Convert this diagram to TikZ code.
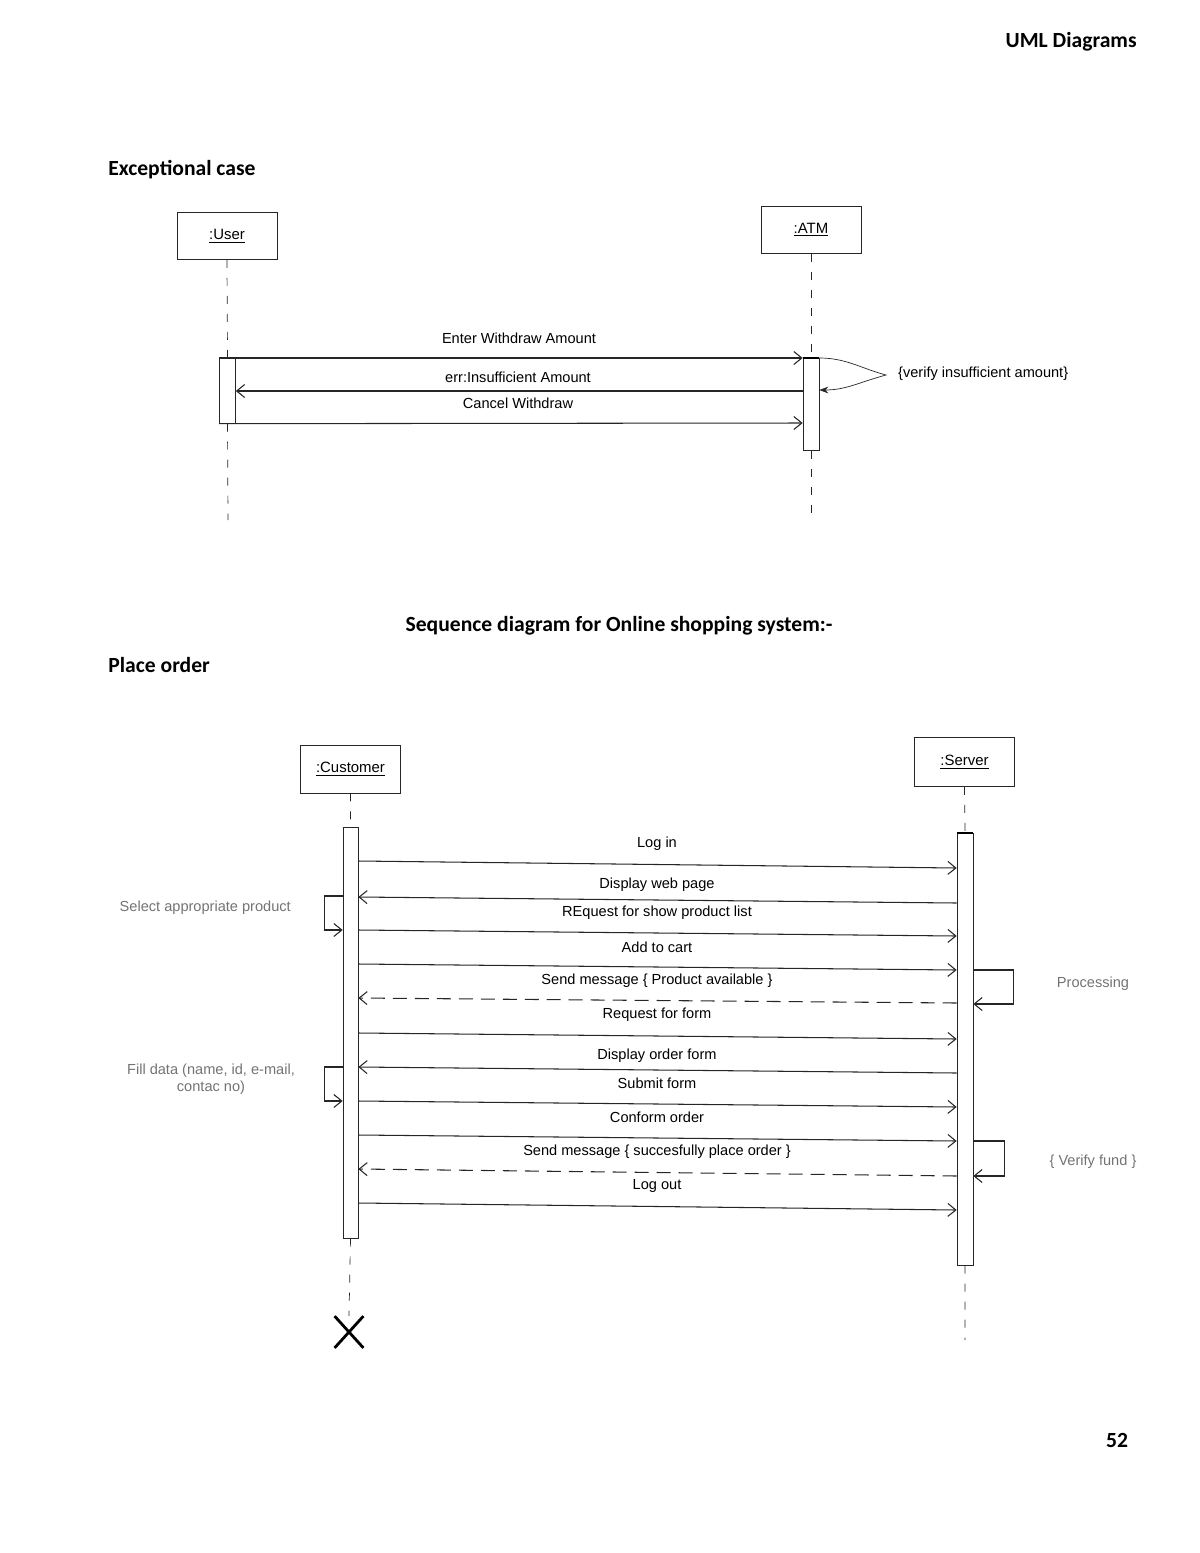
\documentclass[tikz,border=0pt]{standalone}
\usepackage{fontspec}
\setmainfont{Liberation Sans}
\newfontfamily\headfont{Carlito}
\usetikzlibrary{arrows.meta,shapes.misc}

\tikzset{
  obj/.style={draw=black!85, minimum width=2cm, minimum height=0.94cm, font=\fontsize{8.5}{10}\selectfont},
  act/.style={draw=black!85, fill=white, minimum width=0.32cm, inner sep=0pt, anchor=north},
  life/.style={draw=black!85, dash pattern=on 0.16cm off 0.2cm},
  call/.style={draw=black!85, line width=0.6pt, -{Straight Barb[length=1.6mm,width=2.6mm]}},
  reply/.style={call, dash pattern=on 0.28cm off 0.16cm},
  lbl/.style={font=\fontsize{8.3}{10}\selectfont},
  note/.style={font=\fontsize{8.3}{10}\selectfont, text=black!55},
  head/.style={inner sep=0pt, font=\headfont\bfseries\fontsize{12.3}{14}\selectfont},
}

\begin{document}
\begin{tikzpicture}[x=0.02cm,y=-0.02cm]
        \useasboundingbox (0,0) rectangle (1200,1553);
        % page headings
        \node[head,anchor=east] (title) at (1137,42) {UML Diagrams};
        \node[head,anchor=west] (exc) at (108,170) {Exceptional case};
        \node[head] (seq) at (619,626) {Sequence diagram for Online shopping system:-};
        \node[head,anchor=west] (place) at (108,665) {Place order};
        \node[head] (page) at (1117,1440) {52};

        % exceptional case
        \node[obj] (user) at (227,236) {\underline{:User}};
        \node[obj] (atm) at (811,230) {\underline{:ATM}};
        \node[act,minimum height=1.3cm] (ua) at (227.5,358) {};
        \node[act,minimum height=1.84cm] (aa) at (811,358) {};
        \coordinate (ue) at (228,520);
        \coordinate (ae) at (811,522);
        \draw[life] (user.south) -- (ua.north) (ua.south) -- (ue);
        \draw[life] (atm.south) -- (aa.north) (aa.south) -- (ae);
        \draw[line width=1.4pt] (ua.north west) -- (ua.north east) (aa.north west) -- (aa.north east);
        \draw[call] (ua.north west) -- (aa.north west) node[lbl] at (519,338) {Enter Withdraw Amount};
        \draw[call] (aa.west |- 0,391) -- (ua.east |- 0,391) node[lbl] at (518,377) {err:Insufficient Amount};
        \draw[call] (ua.south west) -- (aa.west |- 0,423) node[lbl] at (518,403) {Cancel Withdraw};
        \coordinate (vtip) at (886,375);
        \draw[draw=black!85,-{Stealth[length=1.8mm]}] (aa.north east) to[out=0,in=165] (vtip) to[out=195,in=0] (aa.east |- 0,390);
        \node[lbl,anchor=west] (verify) at (892,374) {\{verify insufficient amount\}};

        % place order
        \node[obj,minimum height=0.96cm] (customer) at (350.5,769) {\underline{:Customer}};
        \node[obj,minimum height=0.98cm] (server) at (964.5,762) {\underline{:Server}};
        \node[act,minimum width=0.3cm,minimum height=8.22cm] (ca) at (350.5,827) {};
        \node[act,minimum height=8.64cm] (sa) at (965,833) {};
        \draw[line width=1.4pt] (sa.north west) -- (sa.north east);
        \node[draw,cross out,line width=1.6pt,minimum width=0.52cm,minimum height=0.58cm,inner sep=0pt] (kill) at (349,1332) {};
        \coordinate (se) at (965,1340);
        \draw[life] (customer.south) -- (ca.north) (ca.south) -- (kill.north);
        \draw[life] (server.south) -- (sa.north) (sa.south) -- (se);

        \draw[call] (ca.east |- 0,861) -- (sa.west |- 0,868) node[lbl] at (657,844) {Log in};
        \draw[call] (sa.west |- 0,903) -- (ca.east |- 0,897) node[lbl] at (657,885) {Display web page};
        \draw[call] (ca.east |- 0,930) -- (sa.west |- 0,936) node[lbl] at (657,913) {REquest for show product list};
        \draw[call] (ca.east |- 0,964) -- (sa.west |- 0,970) node[lbl] at (657,947) {Add to cart};
        \draw[reply] (sa.west |- 0,1003) -- (ca.east |- 0,998) node[lbl] at (657,981) {Send message \{ Product available \}};
        \draw[call] (ca.east |- 0,1033) -- (sa.west |- 0,1039) node[lbl] at (657,1015) {Request for form};
        \draw[call] (sa.west |- 0,1073) -- (ca.east |- 0,1067) node[lbl] at (657,1056) {Display order form};
        \draw[call] (ca.east |- 0,1101) -- (sa.west |- 0,1107) node[lbl] at (657,1083) {Submit form};
        \draw[call] (ca.east |- 0,1135) -- (sa.west |- 0,1141) node[lbl] at (657,1117) {Conform order};
        \draw[reply] (sa.west |- 0,1176) -- (ca.east |- 0,1169) node[lbl] at (657,1152) {Send message \{ succesfully place order \}};
        \draw[call] (ca.east |- 0,1203) -- (sa.west |- 0,1210) node[lbl] at (657,1186) {Log out};

        % self calls
        \draw[call] (ca.west |- 0,896) -- ++(-18,0) |- (ca.west |- 0,930);
        \node[note,anchor=east] (select) at (297,908) {Select appropriate product};
        \draw[call] (ca.west |- 0,1067) -- ++(-18,0) |- (ca.west |- 0,1101);
        \node[note,align=center] (fill) at (211,1079) {Fill data (name, id, e-mail,\\ contac no)};
        \draw[call] (sa.east |- 0,970) -- ++(40,0) |- (sa.east |- 0,1004);
        \node[note] (proc) at (1093,984) {Processing};
        \draw[call] (sa.east |- 0,1141) -- ++(31,0) |- (sa.east |- 0,1176);
        \node[note] (fund) at (1093,1162) {\{ Verify fund \}};
    \end{tikzpicture}
\end{document}
